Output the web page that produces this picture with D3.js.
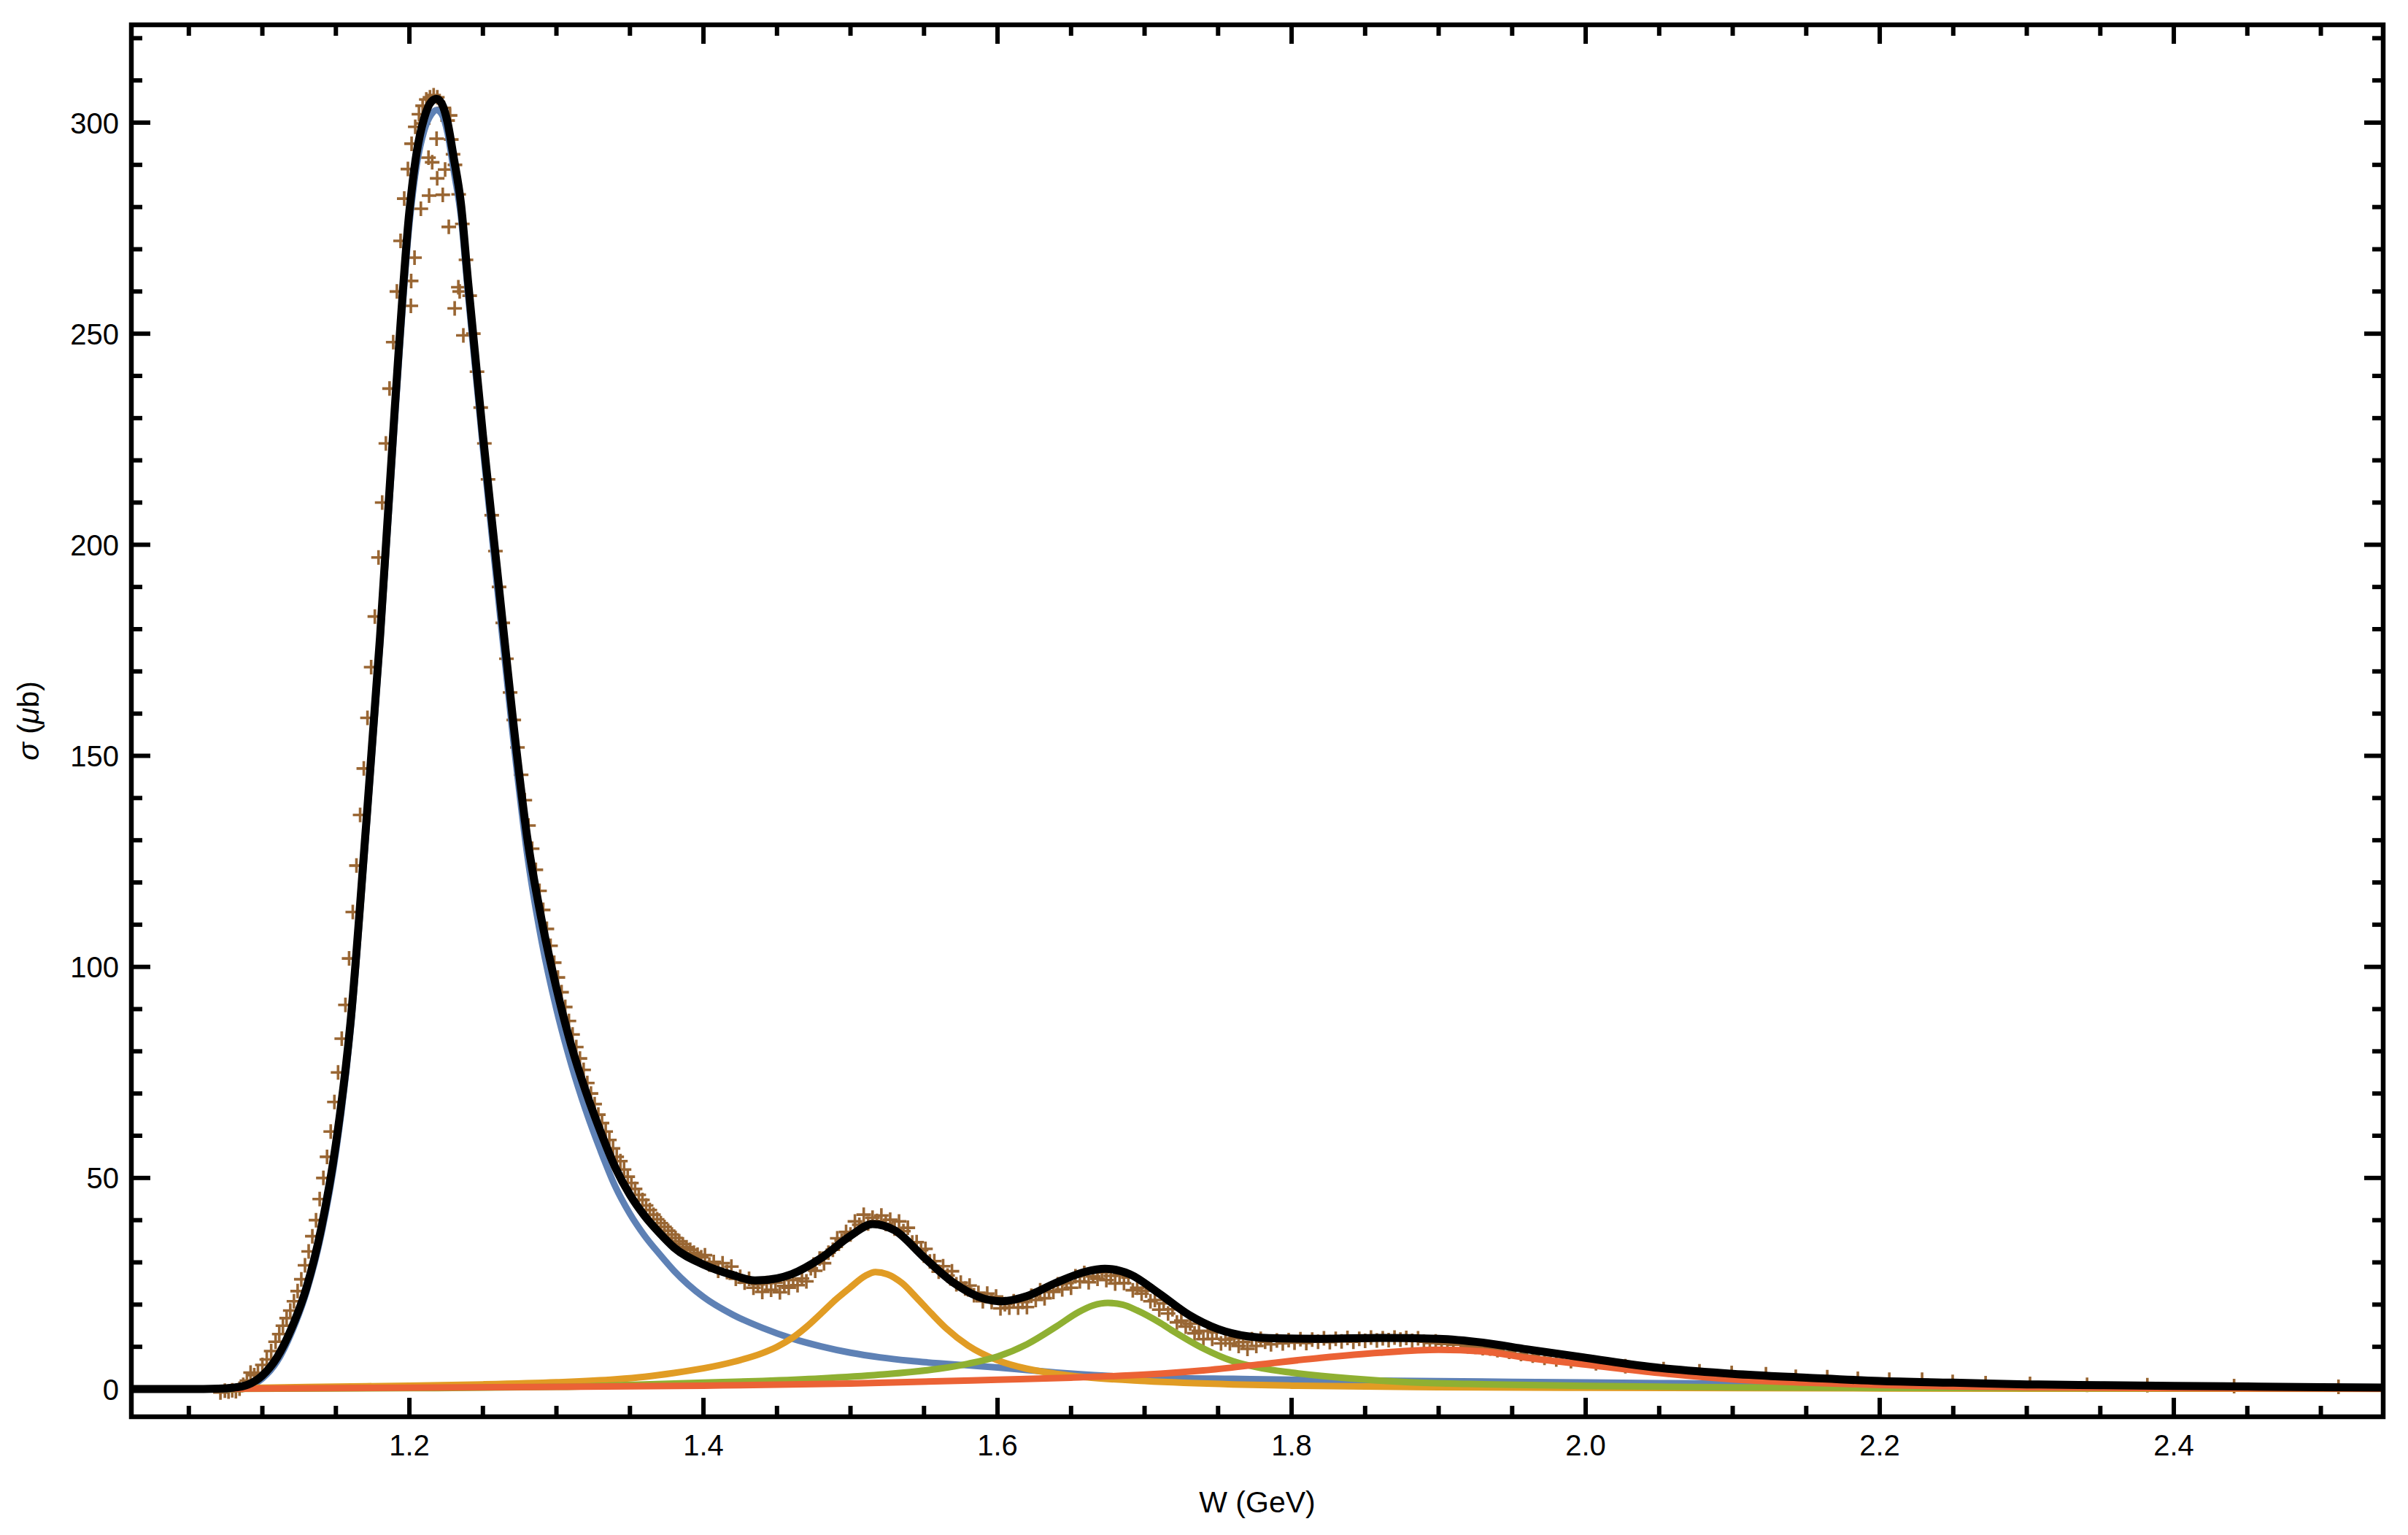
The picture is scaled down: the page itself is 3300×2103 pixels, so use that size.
<!DOCTYPE html>
<html><head><meta charset="utf-8">
<script src="https://cdn.jsdelivr.net/npm/d3@7"></script>
<style>html,body{margin:0;padding:0;background:#fff;} svg{display:block;}</style>
</head><body>
<svg id="chart" width="3300" height="2103"></svg>
<script>
// ---------- axis ticks ----------
const xMajorTicks = [1.2, 1.4, 1.6, 1.8, 2.0, 2.2, 2.4];
const xTickLabels = ["1.2", "1.4", "1.6", "1.8", "2.0", "2.2", "2.4"];
const xMinorTicks = [1.05, 1.1, 1.15, 1.25, 1.3, 1.35, 1.45, 1.5, 1.55, 1.65, 1.7, 1.75, 1.85, 1.9, 1.95, 2.05, 2.1, 2.15, 2.25, 2.3, 2.35, 2.45, 2.5];
const yMajorTicks = [0, 50, 100, 150, 200, 250, 300];
const yTickLabels = ["0", "50", "100", "150", "200", "250", "300"];
const yMinorTicks = [10, 20, 30, 40, 60, 70, 80, 90, 110, 120, 130, 140, 160, 170, 180, 190, 210, 220, 230, 240, 260, 270, 280, 290, 310, 320];
const xDomain = [1.0109, 2.5424];
const yDomain = [-6.57, 323.17];
const xTitle = "W (GeV)";

// ---------- fitted curves [W (GeV), sigma (microbarn)] ----------
const delta1232 = [[1.0109,0],[1.07,0],[1.08,0.1],[1.09,0.6],[1.10,2.5],[1.11,6.5],[1.12,13.5],[1.13,23],[1.14,36.5],[1.15,56],[1.16,85],[1.17,129],[1.18,176],[1.19,229],[1.20,276],[1.205,290],[1.21,298],[1.215,302],[1.2185,303],[1.222,302],[1.226,297.5],[1.23,289],[1.235,278],[1.24,259],[1.245,241],[1.25,223],[1.26,189],[1.27,156],[1.28,127],[1.29,106],[1.30,90],[1.31,77],[1.32,66],[1.33,56.5],[1.34,48],[1.35,41.5],[1.36,36.3],[1.37,32],[1.38,28],[1.40,21.8],[1.42,17.6],[1.44,14.5],[1.46,12],[1.48,10.1],[1.50,8.6],[1.52,7.5],[1.54,6.7],[1.56,6.1],[1.58,5.6],[1.60,5.1],[1.62,4.5],[1.64,3.9],[1.66,3.4],[1.68,3.0],[1.70,2.8],[1.72,2.6],[1.76,2.4],[1.80,2.2],[1.85,2.0],[1.90,1.85],[1.95,1.7],[2.00,1.55],[2.05,1.4],[2.10,1.25],[2.15,1.1],[2.20,0.95],[2.30,0.75],[2.40,0.6],[2.5424,0.45]];
const n1520 = [[1.0109,0],[1.07,0.1],[1.10,0.3],[1.15,0.55],[1.20,0.8],[1.25,1.1],[1.30,1.6],[1.34,2.3],[1.36,2.9],[1.38,3.8],[1.40,4.9],[1.42,6.4],[1.44,8.5],[1.45,10.0],[1.46,12.0],[1.47,14.7],[1.48,17.9],[1.49,21.2],[1.50,24.1],[1.51,26.8],[1.517,27.7],[1.525,27.2],[1.535,25.1],[1.545,21.6],[1.555,17.9],[1.565,14.4],[1.58,10.3],[1.60,6.8],[1.62,4.8],[1.64,3.6],[1.66,2.8],[1.70,1.9],[1.76,1.1],[1.80,0.8],[1.90,0.45],[2.00,0.3],[2.20,0.15],[2.5424,0.05]];
const n1680 = [[1.0109,0],[1.08,0.05],[1.20,0.2],[1.30,0.5],[1.36,1.1],[1.40,1.5],[1.44,1.9],[1.48,2.5],[1.52,3.4],[1.56,4.8],[1.58,6.0],[1.60,7.7],[1.62,10.6],[1.64,14.8],[1.655,18.2],[1.665,19.8],[1.675,20.4],[1.685,20.0],[1.695,18.6],[1.71,15.8],[1.72,13.6],[1.74,9.6],[1.76,6.6],[1.78,4.9],[1.80,3.9],[1.84,2.5],[1.88,1.6],[1.92,1.2],[1.96,0.95],[2.00,0.75],[2.05,0.55],[2.10,0.4],[2.20,0.28],[2.35,0.18],[2.5424,0.12]];
const n1900 = [[1.0109,0],[1.08,0.1],[1.15,0.2],[1.20,0.3],[1.30,0.5],[1.40,0.8],[1.50,1.3],[1.60,2.2],[1.65,2.7],[1.70,3.4],[1.74,4.4],[1.78,5.9],[1.82,7.4],[1.86,8.6],[1.90,9.3],[1.93,8.9],[1.96,7.4],[2.00,5.8],[2.05,3.8],[2.10,2.3],[2.15,1.5],[2.20,0.95],[2.25,0.6],[2.30,0.4],[2.40,0.2],[2.5424,0.1]];
const totalFit = [[1.0109,0],[1.05,0],[1.07,0.1],[1.08,0.3],[1.09,1.0],[1.10,3.2],[1.11,7.5],[1.12,14.5],[1.13,24],[1.14,38],[1.15,58],[1.16,87],[1.17,131],[1.18,178],[1.19,232],[1.20,279],[1.205,293],[1.21,301],[1.215,305],[1.2185,305.6],[1.222,304.5],[1.226,300],[1.23,292],[1.235,281],[1.24,262],[1.245,244],[1.25,226],[1.26,193],[1.27,160],[1.28,131],[1.29,111],[1.30,95],[1.31,81.5],[1.32,70.5],[1.33,61],[1.34,52.5],[1.35,46],[1.36,41],[1.37,37],[1.38,33.5],[1.40,29.5],[1.42,27],[1.435,25.7],[1.45,26.2],[1.46,27.2],[1.48,31],[1.50,36.3],[1.515,39.1],[1.53,37.6],[1.55,31.2],[1.57,25.2],[1.59,21.5],[1.603,20.8],[1.62,22],[1.64,25.2],[1.66,27.8],[1.673,28.5],[1.69,27.2],[1.71,22.6],[1.73,17.6],[1.75,14.2],[1.77,12.5],[1.79,12.0],[1.82,11.9],[1.86,12.1],[1.90,11.9],[1.93,11.0],[1.96,9.4],[2.00,7.4],[2.05,5.0],[2.10,3.6],[2.15,2.7],[2.20,1.9],[2.25,1.5],[2.30,1.1],[2.35,0.9],[2.40,0.75],[2.45,0.6],[2.50,0.45],[2.5424,0.35]];

// ---------- measured points [W (GeV), sigma (microbarn)] ----------
const measured = [
[1.0715,-0.8],[1.0745,-0.4],[1.0770,-0.6],[1.0795,-0.3],[1.0820,-0.5],[1.0845,0.1],[1.0870,1.0],[1.0895,2.0],[1.0920,3.9],[1.0945,3.3],[1.0970,3.8],[1.1000,5.7],[1.1030,7.0],[1.1060,9.0],[1.1090,11.2],[1.1115,13.0],[1.1140,15.0],[1.1165,16.8],[1.1190,18.6],[1.1215,20.8],[1.1240,23.2],[1.1265,26.0],[1.1290,29.3],[1.1315,32.6],[1.1340,36.2],[1.1365,40],[1.1390,45],[1.1415,50],[1.1440,55],[1.1465,61],[1.1490,68],[1.1515,75],[1.1540,83],[1.1565,91],[1.1590,102],[1.1615,113],[1.1640,124],[1.1665,136],[1.1690,147],[1.1715,159],[1.1740,171],[1.1765,183],[1.1790,197],[1.1815,210],[1.1840,224],[1.1865,237],[1.1890,248],[1.1915,260],[1.1940,272],[1.1965,282],[1.1990,289],[1.2015,295],[1.2040,299],[1.2065,302],[1.2090,304],[1.2115,305.5],[1.2140,306],[1.2165,306.5],[1.2190,306],
[1.2010,256.6],[1.2012,262.5],[1.2035,268],[1.2078,279.6],[1.2094,299.8],[1.2130,291.7],[1.2134,282.7],[1.2155,290.6],[1.2185,296.2],[1.2189,286.8],[1.2227,282.9],[1.2243,288.9],[1.2268,275.3],[1.2277,301.7],[1.2297,292.5],[1.2308,256],[1.2333,261],[1.2342,260],[1.2367,249.6],
[1.2235,303.5],[1.2260,300.5],[1.2285,296],[1.2310,290],[1.2335,283],[1.2360,276],[1.2385,267.5],[1.2410,259],[1.2435,250],[1.2460,241],[1.2485,232.5],[1.2510,224],[1.2535,215.5],[1.2560,207],[1.2585,198.5],[1.2610,190],[1.2635,181.5],[1.2660,173],[1.2685,165],[1.2710,158.5],[1.2735,152],[1.2760,145.5],[1.2785,139.5],[1.2810,133.5],[1.2835,128],[1.2860,123],[1.2885,118],[1.2910,113.5],[1.2935,109],[1.2960,105],[1.2985,101],[1.3010,97.5],[1.3035,94],[1.3060,90.5],[1.3085,87.2],[1.3110,84],[1.3135,81],[1.3160,78.3],[1.3185,75.6],[1.3210,72.5],[1.3235,70],[1.3260,67.5],[1.3285,65],[1.3310,63],[1.3335,61],[1.3360,59],[1.3385,57],[1.3410,55],[1.3435,54],[1.3460,52],[1.3485,50.3],[1.3510,48.8],[1.3535,47.4],[1.3560,46],[1.3585,44.8],[1.3610,43.5],[1.3635,42.4],[1.3660,41.3],[1.3685,40.2],[1.3710,39.3],[1.3735,38.4],[1.3760,37.5],[1.3785,36.6],[1.3810,35.8],[1.3835,35.0],[1.3860,34.3],[1.3885,33.6],[1.3910,33.0],[1.3935,32.3],[1.3960,31.8],[1.3985,31.2],
[1.401,31.7],[1.404,29.5],[1.407,30.1],[1.410,28.0],[1.413,29.8],[1.416,27.7],[1.419,29.0],[1.422,26.1],[1.425,26.6],[1.428,25.2],[1.431,26.1],[1.434,24.0],[1.437,24.8],[1.440,23.0],[1.443,25.1],[1.446,23.5],[1.449,25.2],[1.452,22.9],[1.455,24.4],[1.458,24.0],[1.461,25.8],[1.464,24.6],[1.467,26.2],[1.470,25.5],[1.473,28.6],[1.476,28.0],[1.479,30.9],[1.482,29.8],[1.485,32.3],[1.488,33.0],[1.491,35.7],[1.494,35.1],[1.497,37.2],[1.500,36.6],[1.503,39.7],[1.506,38.9],[1.509,41.3],[1.512,39.2],[1.515,40.6],[1.518,39.8],[1.521,41.1],[1.524,39.1],[1.527,40.1],[1.530,38.0],[1.533,39.7],[1.536,37.4],[1.539,38.2],[1.542,34.7],[1.545,34.8],[1.548,32.9],[1.551,33.2],[1.554,30.2],[1.557,30.3],[1.560,27.8],[1.563,29.1],[1.566,26.9],[1.569,27.9],[1.572,24.8],[1.575,25.2],[1.578,23.8],[1.581,24.5],[1.584,22.2],[1.587,22.8],[1.590,20.8],[1.593,22.6],[1.596,20.6],[1.599,21.9],[1.602,19.1],[1.605,20.1],[1.608,19.3],[1.611,20.8],[1.614,19.3],[1.617,20.6],[1.620,19.4],[1.623,22.1],[1.626,21.1],[1.629,23.4],[1.632,21.5],[1.635,23.2],[1.638,23.0],[1.641,24.8],[1.644,23.6],[1.647,25.1],[1.650,24.0],[1.653,26.7],[1.656,25.5],[1.659,27.5],[1.662,25.3],[1.665,26.7],[1.668,26.1],[1.671,27.6],[1.674,25.8],[1.677,26.8],[1.680,25.0],[1.683,27.0],[1.686,25.1],[1.689,26.4],[1.692,23.4],[1.695,24.0],[1.698,22.6],[1.701,23.3],[1.704,20.8],[1.707,21.1],[1.710,18.8],[1.713,20.3],[1.716,17.9],[1.719,18.9],[1.722,15.8],[1.725,16.2],[1.728,14.8],[1.731,15.5],[1.734,13.2],[1.737,13.8],[1.740,11.8],[1.743,13.7],[1.746,11.9],[1.749,13.4],[1.752,10.8],[1.755,11.7],[1.758,10.8],[1.761,12.0],[1.764,10.2],[1.767,11.1],[1.770,9.5],[1.773,11.8],[1.776,10.2],[1.779,11.9],
[1.782,11.2],[1.786,10.6],[1.790,11.5],[1.794,10.8],[1.798,11.6],[1.802,11.0],[1.806,11.8],[1.810,10.9],[1.814,11.7],[1.818,11.2],[1.822,12.0],[1.826,11.1],[1.830,11.9],[1.834,11.3],[1.838,12.1],[1.842,11.2],[1.846,11.9],[1.850,11.4],[1.854,12.2],[1.858,11.5],[1.862,12.0],[1.866,11.6],[1.870,12.2],[1.874,11.7],[1.878,12.1],[1.882,11.4],[1.886,12.0],[1.890,11.2],[1.894,10.9],[1.898,11.3],[1.902,10.7],[1.906,10.9],[1.910,10.5],[1.915,10.6],[1.920,10.1],[1.925,10.0],[1.930,9.7],[1.935,9.6],[1.940,9.2],[1.948,8.8],[1.956,8.3],[1.964,7.9],[1.972,7.4],[1.980,7.0],[1.990,6.6],
[2.007,6.1],[2.027,5.4],[2.053,4.7],[2.0774,4.2],[2.0993,3.8],[2.1226,3.5],[2.1429,2.9],[2.1643,2.8],[2.1851,2.4],[2.2065,2.2],[2.2288,2.2],[2.2496,1.7],[2.272,1.4],[2.3022,1.2],[2.341,1.0],[2.382,0.9],[2.441,0.7],[2.512,0.5]
];

const components = [
  {name: "Delta(1232)", data: delta1232, color: "#5E81B5"},
  {name: "N(1520)", data: n1520, color: "#E19C24"},
  {name: "N(1680)", data: n1680, color: "#8FB032"},
  {name: "N(1900)", data: n1900, color: "#EB6235"}
];

// ---------- layout ----------
const L = 180, R = 3266, T = 34, B = 1941;
const svg = d3.select("#chart");
svg.append("rect").attr("width", 3300).attr("height", 2103).attr("fill", "#fff");

const x = d3.scaleLinear().domain(xDomain).range([L, R]);
const y = d3.scaleLinear().domain(yDomain).range([B, T]);

svg.append("defs").append("clipPath").attr("id", "plotclip")
  .append("rect").attr("x", L).attr("y", T).attr("width", R - L).attr("height", B - T);

const plot = svg.append("g").attr("clip-path", "url(#plotclip)");

// measured points as "+" markers
const m = 10;
plot.append("path")
  .attr("d", measured.map(d => {
    const px = x(d[0]), py = y(d[1]);
    return `M${px - m},${py}H${px + m}M${px},${py - m}V${py + m}`;
  }).join(""))
  .attr("fill", "none")
  .attr("stroke", "#996633")
  .attr("stroke-width", 3.6);

const line = d3.line().x(d => x(d[0])).y(d => y(d[1])).curve(d3.curveMonotoneX);

components.forEach(c => {
  plot.append("path").datum(c.data)
    .attr("d", line).attr("fill", "none")
    .attr("stroke", c.color).attr("stroke-width", 9)
    .attr("stroke-linejoin", "round");
});

plot.append("path").datum(totalFit)
  .attr("d", line).attr("fill", "none")
  .attr("stroke", "#000").attr("stroke-width", 11)
  .attr("stroke-linejoin", "round");

// ---------- frame & ticks ----------
const axes = svg.append("g").attr("stroke", "#000").attr("stroke-width", 6);
const majorLen = 26, minorLen = 15;
function xTick(v, len) {
  axes.append("line").attr("x1", x(v)).attr("x2", x(v)).attr("y1", B).attr("y2", B - len);
  axes.append("line").attr("x1", x(v)).attr("x2", x(v)).attr("y1", T).attr("y2", T + len);
}
function yTick(v, len) {
  axes.append("line").attr("y1", y(v)).attr("y2", y(v)).attr("x1", L).attr("x2", L + len);
  axes.append("line").attr("y1", y(v)).attr("y2", y(v)).attr("x1", R).attr("x2", R - len);
}
xMajorTicks.forEach(v => xTick(v, majorLen));
xMinorTicks.forEach(v => xTick(v, minorLen));
yMajorTicks.forEach(v => yTick(v, majorLen));
yMinorTicks.forEach(v => yTick(v, minorLen));

svg.append("rect").attr("x", L).attr("y", T).attr("width", R - L).attr("height", B - T)
  .attr("fill", "none").attr("stroke", "#000").attr("stroke-width", 6.5);

// ---------- labels ----------
const font = "'Liberation Sans', Arial, Helvetica, sans-serif";
const labels = svg.append("g").attr("font-family", font).attr("font-size", 40).attr("fill", "#000");
xMajorTicks.forEach((v, i) => {
  labels.append("text").attr("x", x(v)).attr("y", 1994).attr("text-anchor", "middle").text(xTickLabels[i]);
});
yMajorTicks.forEach((v, i) => {
  labels.append("text").attr("x", 163).attr("y", y(v) + 14.5).attr("text-anchor", "end").text(yTickLabels[i]);
});

svg.append("text").attr("x", (L + R) / 2).attr("y", 2072)
  .attr("text-anchor", "middle").attr("font-family", font).attr("font-size", 41)
  .text(xTitle);

const yt = svg.append("text")
  .attr("transform", `translate(53,${(T + B) / 2}) rotate(-90)`)
  .attr("text-anchor", "middle").attr("font-family", font).attr("font-size", 41);
yt.append("tspan").attr("font-style", "italic").text("σ");
yt.append("tspan").text(" (");
yt.append("tspan").attr("font-style", "italic").text("μ");
yt.append("tspan").text("b)");
</script>
</body></html>
